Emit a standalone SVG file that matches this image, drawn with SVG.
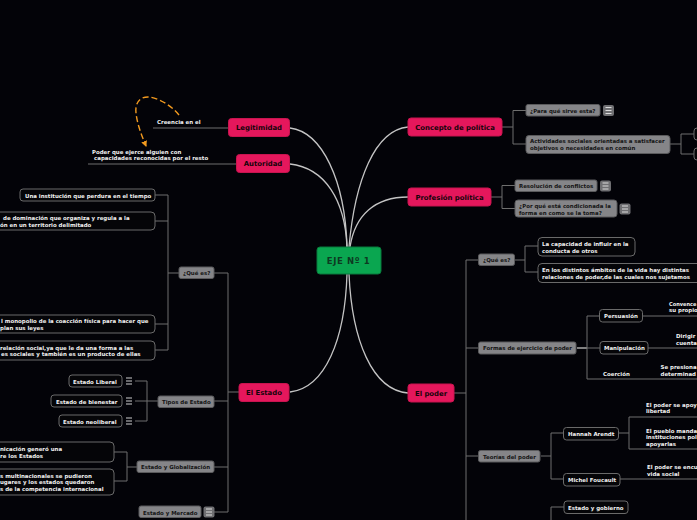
<svg xmlns="http://www.w3.org/2000/svg" width="697" height="520" viewBox="0 0 697 520">
<style>
text{font-family:"DejaVu Sans",Verdana,sans-serif;font-weight:700}
.main rect{fill:#e5175c;stroke:#c8144f;stroke-width:1}
.main text{font-size:6.900px;fill:#14040a;text-anchor:middle}
.sub rect{fill:#858588;stroke:#5a5a5c;stroke-width:1}
.sub text{font-size:5.450px;fill:#141414}
.leaf rect{fill:#050508;stroke:#6a6a6a;stroke-width:1}
.leaf text,.plain text{font-size:5.450px;fill:#f0f0f0}
.c path{fill:none;stroke:#6e6e6e;stroke-width:1}
.c path.t{stroke:#c4c4c4;stroke-width:1.300}
.c path.o{stroke:#f29a1f;stroke-width:1.400;stroke-dasharray:6 3}
</style>
<defs>
<path id="lines" d="M-3-3H3M-3 0H3M-3 3H3" fill="none" stroke="#e8e8e8" stroke-width=".9"/>
<g id="icon"><rect x="-5.500" y="-5.500" width="11" height="11" rx="2" fill="#6f6f72"/><use href="#lines"/></g>
<marker id="ah" markerWidth="7" markerHeight="7" refX="5" refY="3" orient="auto" markerUnits="userSpaceOnUse"><path d="M0 0L6 3L0 6Z" fill="#f29a1f"/></marker>
</defs>
<rect width="697" height="520" fill="#030308"/>

<g id="connectors" class="c">
<path class="t" d="M347 247C345 180 322 132 290 128"/>
<path class="t" d="M347 247C345 200 325 168 290 164"/>
<path class="t" d="M347 274C345 340 325 388 290 392"/>
<path class="t" d="M349 247C355 180 375 130 408 127"/>
<path class="t" d="M350 247C355 215 375 197 408 197"/>
<path class="t" d="M349 274C352 340 372 390 408 393"/>
<path d="M153 128H228M88 164H236"/>
<path d="M155 195H168M155 221H168M155 324H168M155 350H168M168 195V350M168 273H179M214 273H228M228 273V512M228 392H239"/>
<path d="M135 381H147M135 401H158M135 421H147M147 381V421M214 401H228"/>
<path d="M114 452H127M114 481H127M127 452V481M127 467H137M214 467H228"/>
<path d="M214 512H228"/>
<path d="M502 127H513M513 110.500V144M513 110.500H526M513 144H526M670 144H681M681 134V154M681 134H694M681 154H694"/>
<path d="M491 197H502M502 185.500V208.500M502 185.500H515M502 208.500H515"/>
<path d="M454 393H466M466 260V520M466 260H478M466 348H478M466 456H478"/>
<path d="M515 260H525M525 246V272M525 246H538M525 272H538"/>
<path class="t" d="M577 348H587"/>
<path d="M587 316V379M587 316H599M587 348H600M587 379H697M643 316H697M648 348H697"/>
<path d="M541 456H551M551 433V479M551 433H563M551 479H563M619 433H629M629 417V449M629 417H697M629 449H697M620 479H697"/>
<path d="M551 507V520M551 507H564"/>
<path class="o" d="M179 115C170 104 156 97 148 97C138 97 135 105 136 113C137 123 141 134 146 146" marker-end="url(#ah)"/>
</g>

<g id="central"><rect x="317" y="247" width="64" height="27" rx="3" fill="#0aa650" stroke="#087a3c"/><text x="348.500" y="263.500" font-size="8.500" letter-spacing=".6" fill="#0d3a22" text-anchor="middle">EJE Nº 1</text></g>

<g id="legitimidad" class="main"><rect x="228.500" y="118.500" width="61" height="18" rx="3"/><text x="259" y="130">Legitimidad</text></g>
<g id="autoridad" class="main"><rect x="236.500" y="154.500" width="53" height="18" rx="3"/><text x="263" y="166">Autoridad</text></g>
<g id="estado" class="main"><rect x="239" y="383.500" width="50" height="18" rx="3"/><text x="264" y="395">El Estado</text></g>
<g id="concepto" class="main"><rect x="408" y="118" width="94" height="18" rx="3"/><text x="455" y="130">Concepto de política</text></g>
<g id="profesion" class="main"><rect x="408" y="188" width="83" height="18" rx="3"/><text x="449.500" y="200">Profesión política</text></g>
<g id="poder" class="main"><rect x="408" y="384" width="46" height="18" rx="3"/><text x="431" y="396">El poder</text></g>

<g id="creencia" class="plain"><text x="157" y="124">Creencia en el</text></g>
<g id="poder-ejerce" class="plain"><text x="92" y="154">Poder que ejerce alguien con</text><text x="94" y="160">capacidades reconocidas por el resto</text></g>

<g id="que-es-l" class="sub"><rect x="179" y="267" width="35" height="11.500" rx="2"/><text x="183" y="275">¿Qué es?</text></g>
<g id="una" class="leaf"><rect x="20" y="189" width="135" height="12" rx="3"/><text x="25" y="198">Una institución que perdura en el tiempo</text></g>
<g id="forma" class="leaf"><rect x="-20" y="212" width="175" height="18" rx="4"/><text x="3" y="220">de dominación que organiza y regula a la</text><text x="0" y="227">ón en un territorio delimitado</text></g>
<g id="monopolio" class="leaf"><rect x="-20" y="315" width="175" height="18" rx="4"/><text x="1" y="323">l monopolio de la coacción física para hacer que</text><text x="0" y="330">plan sus leyes</text></g>
<g id="relacion" class="leaf"><rect x="-20" y="341" width="175" height="19" rx="4"/><text x="0" y="350">relación social,ya que le da una forma a las</text><text x="1" y="356">es sociales y también es un producto de ellas</text></g>

<g id="liberal" class="leaf"><rect x="69" y="375" width="53" height="12" rx="3"/><text x="73" y="384">Estado Liberal</text></g>
<g id="bienestar" class="leaf"><rect x="51" y="395" width="71" height="12" rx="3"/><text x="56" y="404">Estado de bienestar</text></g>
<g id="neoliberal" class="leaf"><rect x="59" y="415" width="63" height="12" rx="3"/><text x="63" y="424">Estado neoliberal</text></g>
<use href="#lines" x="129" y="381"/><use href="#lines" x="129" y="401"/><use href="#lines" x="129" y="421"/>
<g id="tipos" class="sub"><rect x="158" y="396" width="56" height="11.500" rx="2"/><text x="162" y="404">Tipos de Estado</text></g>

<g id="glob" class="sub"><rect x="137" y="461" width="77" height="11.500" rx="2"/><text x="141" y="469">Estado y Globalización</text></g>
<g id="glob1" class="leaf"><rect x="-20" y="442" width="134" height="20" rx="4"/><text x="0" y="451">nicación generó una</text><text x="0" y="458">re los Estados</text></g>
<g id="glob2" class="leaf"><rect x="-20" y="469" width="134" height="26" rx="4"/><text x="0" y="478">s multinacionales se pudieron</text><text x="0" y="484">ugares y los estados quedaron</text><text x="0" y="491">s de la competencia internacional</text></g>
<g id="mercado" class="sub"><rect x="139" y="506" width="62" height="11.500" rx="2"/><text x="143" y="514.500">Estado y Mercado</text></g>
<use href="#icon" x="209" y="512"/>

<g id="para" class="sub"><rect x="526" y="104.500" width="74" height="11.500" rx="2"/><text x="530" y="112.500">¿Para qué sirve esta?</text></g>
<use href="#icon" x="608.500" y="110.500"/>
<g id="actividades" class="sub"><rect x="526" y="135.500" width="144" height="18" rx="3"/><text x="530" y="143">Actividades sociales orientadas a satisfacer</text><text x="530" y="150">objetivos  o necesidades en común</text></g>
<g id="box-a" class="leaf"><rect x="694" y="128" width="20" height="12" rx="3"/></g>
<g id="box-b" class="leaf"><rect x="694" y="148" width="20" height="12" rx="3"/></g>

<g id="resolucion" class="sub"><rect x="515" y="180" width="82" height="11.500" rx="2"/><text x="519" y="188">Resolución de conflictos</text></g>
<use href="#icon" x="605.500" y="186"/>
<g id="porque" class="sub"><rect x="515" y="200" width="102" height="17" rx="3"/><text x="519" y="207.500">¿Por qué está condicionada la</text><text x="519" y="214.500">forma en como se la toma?</text></g>
<use href="#icon" x="625" y="209"/>

<g id="que-es-r" class="sub"><rect x="478.500" y="254" width="36" height="11.500" rx="2"/><text x="483" y="262">¿Qué es?</text></g>
<g id="capacidad" class="leaf"><rect x="538" y="237.500" width="97" height="18.500" rx="4"/><text x="542" y="245.500">La capacidad de influir en la</text><text x="542" y="252.500">conducta de otros</text></g>
<g id="ambitos" class="leaf"><rect x="538" y="263.500" width="170" height="19" rx="4"/><text x="542" y="272">En los distintos ámbitos de la vida hay distintas</text><text x="542" y="278.500">relaciones de poder,de las cuales nos sujetamos</text></g>

<g id="formas" class="sub"><rect x="478.500" y="342" width="97.500" height="12" rx="2"/><text x="483" y="350">Formas de ejercicio de poder</text></g>
<g id="persuasion" class="leaf"><rect x="599.500" y="309.500" width="43" height="12.500" rx="3"/><text x="604" y="318">Persuasión</text></g>
<g id="manipulacion" class="leaf"><rect x="600" y="341.500" width="48" height="12.500" rx="3"/><text x="604" y="350">Manipulación</text></g>
<g id="coercion" class="plain"><text x="603" y="376">Coerción</text></g>
<g id="t-convence" class="plain"><text x="669" y="306" textLength="27.500" lengthAdjust="spacingAndGlyphs">Convence</text><text x="669" y="312">su propio</text></g>
<g id="t-dirigir" class="plain"><text x="676" y="338">Dirigir</text><text x="676" y="345">cuenta</text></g>
<g id="t-presiona" class="plain"><text x="660.500" y="369">Se presiona</text><text x="660.500" y="376">determinad</text></g>

<g id="teorias" class="sub"><rect x="478.500" y="450.500" width="61.500" height="11.500" rx="2"/><text x="483" y="459">Teorías del poder</text></g>
<g id="hannah" class="leaf"><rect x="563.500" y="427.500" width="55" height="12.500" rx="3"/><text x="568" y="436">Hannah Arendt</text></g>
<g id="michel" class="leaf"><rect x="563.500" y="473.500" width="56.500" height="12.500" rx="3"/><text x="568" y="482">Michel Foucault</text></g>
<g id="t-apoya" class="plain"><text x="646" y="407">El poder se apoy</text><text x="646" y="413">libertad</text></g>
<g id="t-pueblo" class="plain"><text x="646" y="433">El pueblo manda</text><text x="646" y="439">instituciones pol</text><text x="646" y="446">apoyarlas</text></g>
<g id="t-encu" class="plain"><text x="647" y="469">El poder se encu</text><text x="647" y="476">vida social</text></g>
<g id="gobierno" class="leaf"><rect x="564" y="501" width="64" height="12.500" rx="3"/><text x="568" y="509.500">Estado y gobierno</text></g>
</svg>
